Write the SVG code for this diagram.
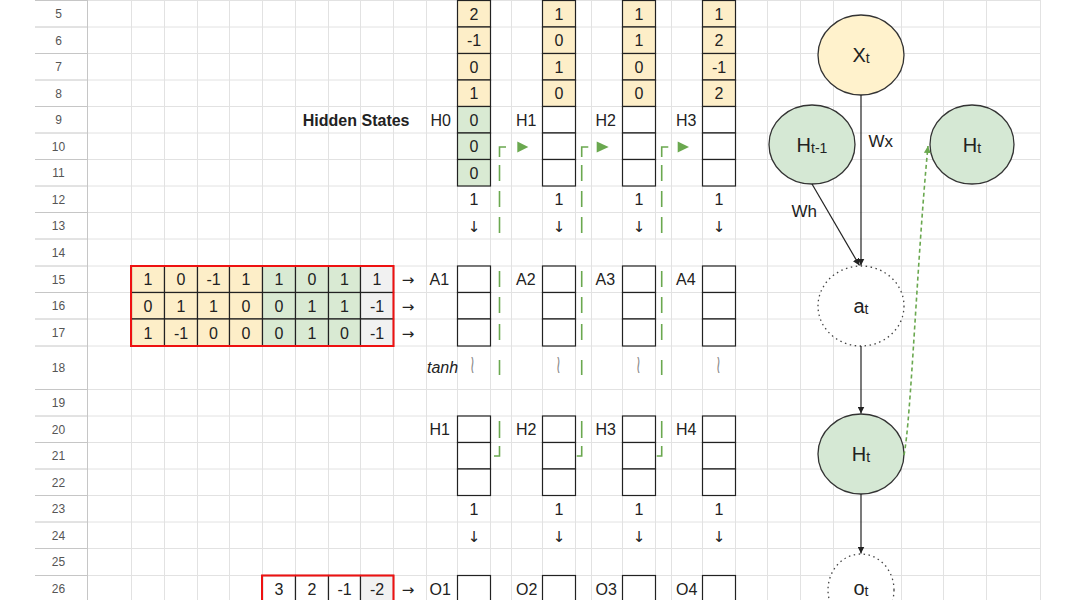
<svg xmlns="http://www.w3.org/2000/svg" width="1080" height="600" viewBox="0 0 1080 600">
<defs>
<style>
.g{stroke:#e2e2e2;stroke-width:1;fill:none}
.hd{stroke:#c6c6c6;stroke-width:1;fill:none}
.rn{font-family:"Liberation Sans",Arial,sans-serif;font-size:12px;fill:#555;text-anchor:middle}
.t{font-family:"Liberation Sans",Arial,sans-serif;font-size:16px;fill:#222}
.ar{font-family:"DejaVu Sans",sans-serif;font-size:15px;fill:#222;text-anchor:middle}
.c{text-anchor:middle}
.b{font-weight:bold}
.cell{stroke:#222;stroke-width:1.2}
.y{fill:#fdeec8}
.gr{fill:#d9ead3}
.w{fill:#fff}
.gy{fill:#f1f1f1}
.red{fill:none;stroke:#ee1111;stroke-width:2}
.gd{stroke:#6aa84f;stroke-width:1.6;fill:none}
.ga{fill:#6aa84f}
.sq{font-family:"DejaVu Sans",sans-serif;font-size:16px;fill:#888;text-anchor:middle}
.dt{font-family:"Liberation Sans",Arial,sans-serif;fill:#222}
.con{stroke:#222;stroke-width:1.2;fill:none}
</style>
<marker id="arr" viewBox="0 0 10 10" refX="10" refY="5" markerWidth="7" markerHeight="7" orient="auto" markerUnits="userSpaceOnUse"><path d="M0,0 L10,5 L0,10 Z" fill="#222"/></marker>
<marker id="garr" viewBox="0 0 10 10" refX="10" refY="5" markerWidth="7" markerHeight="7" orient="auto" markerUnits="userSpaceOnUse"><path d="M0,0 L10,5 L0,10 Z" fill="#6aa84f"/></marker>
</defs>
<rect width="1080" height="600" fill="#fff"/>

<g id="grid">
<path class="g" d="M131.5,0V602M164.5,0V602M197.5,0V602M229.5,0V602M262.5,0V602M295.5,0V602M328.5,0V602M360.5,0V602M393.5,0V602M426.5,0V602M457.5,0V602M490.5,0V602M511.5,0V602M542.5,0V602M575.5,0V602M591.5,0V602M622.5,0V602M655.5,0V602M671.5,0V602M702.5,0V602M735.5,0V602M767.5,0V602M800.5,0V602M833.5,0V602M901.5,0V602M943.5,0V602M986.5,0V602M1040.5,0V602"/>
<path class="g" d="M87,0.5H1040.5M87,27H1040.5M87,53.5H1040.5M87,80H1040.5M87,106.5H1040.5M87,133H1040.5M87,159.5H1040.5M87,186H1040.5M87,212.5H1040.5M87,239H1040.5M87,266H1040.5M87,292.5H1040.5M87,319H1040.5M87,346H1040.5M87,389.5H1040.5M87,416H1040.5M87,442.5H1040.5M87,469H1040.5M87,495.5H1040.5M87,522H1040.5M87,548.5H1040.5M87,575.5H1040.5"/>
<path class="hd" d="M35,0.5H87M35,27H87M35,53.5H87M35,80H87M35,106.5H87M35,133H87M35,159.5H87M35,186H87M35,212.5H87M35,239H87M35,266H87M35,292.5H87M35,319H87M35,346H87M35,389.5H87M35,416H87M35,442.5H87M35,469H87M35,495.5H87M35,522H87M35,548.5H87M35,575.5H87M87.5,0V602"/>
<g class="rn">
<text x="58.5" y="18">5</text><text x="58.5" y="44.5">6</text><text x="58.5" y="71">7</text><text x="58.5" y="97.5">8</text><text x="58.5" y="124">9</text><text x="58.5" y="150.5">10</text><text x="58.5" y="177">11</text><text x="58.5" y="203.5">12</text><text x="58.5" y="230">13</text><text x="58.5" y="256.5">14</text><text x="58.5" y="283.5">15</text><text x="58.5" y="310">16</text><text x="58.5" y="336.5">17</text><text x="58.5" y="372">18</text><text x="58.5" y="407">19</text><text x="58.5" y="433.5">20</text><text x="58.5" y="460">21</text><text x="58.5" y="486.5">22</text><text x="58.5" y="513">23</text><text x="58.5" y="539.5">24</text><text x="58.5" y="566">25</text><text x="58.5" y="593">26</text>
</g>
</g>

<g id="input-matrix">
<g class="cell">
<rect class="y" x="131.5" y="266" width="33" height="26.5"/><rect class="y" x="164.5" y="266" width="33" height="26.5"/><rect class="y" x="197.5" y="266" width="32" height="26.5"/><rect class="y" x="229.5" y="266" width="33" height="26.5"/><rect class="gr" x="262.5" y="266" width="33" height="26.5"/><rect class="gr" x="295.5" y="266" width="33" height="26.5"/><rect class="gr" x="328.5" y="266" width="32" height="26.5"/><rect class="gy" x="360.5" y="266" width="33" height="26.5"/>
<rect class="y" x="131.5" y="292.5" width="33" height="26.5"/><rect class="y" x="164.5" y="292.5" width="33" height="26.5"/><rect class="y" x="197.5" y="292.5" width="32" height="26.5"/><rect class="y" x="229.5" y="292.5" width="33" height="26.5"/><rect class="gr" x="262.5" y="292.5" width="33" height="26.5"/><rect class="gr" x="295.5" y="292.5" width="33" height="26.5"/><rect class="gr" x="328.5" y="292.5" width="32" height="26.5"/><rect class="gy" x="360.5" y="292.5" width="33" height="26.5"/>
<rect class="y" x="131.5" y="319" width="33" height="27"/><rect class="y" x="164.5" y="319" width="33" height="27"/><rect class="y" x="197.5" y="319" width="32" height="27"/><rect class="y" x="229.5" y="319" width="33" height="27"/><rect class="gr" x="262.5" y="319" width="33" height="27"/><rect class="gr" x="295.5" y="319" width="33" height="27"/><rect class="gr" x="328.5" y="319" width="32" height="27"/><rect class="gy" x="360.5" y="319" width="33" height="27"/>
</g>
<rect class="red" x="131" y="266" width="262.5" height="80"/>
<g class="t c">
<text x="148" y="285">1</text><text x="181" y="285">0</text><text x="213.5" y="285">-1</text><text x="246" y="285">1</text><text x="279" y="285">1</text><text x="312" y="285">0</text><text x="344.5" y="285">1</text><text x="377" y="285">1</text>
<text x="148" y="311.5">0</text><text x="181" y="311.5">1</text><text x="213.5" y="311.5">1</text><text x="246" y="311.5">0</text><text x="279" y="311.5">0</text><text x="312" y="311.5">1</text><text x="344.5" y="311.5">1</text><text x="377" y="311.5">-1</text>
<text x="148" y="338.5">1</text><text x="181" y="338.5">-1</text><text x="213.5" y="338.5">0</text><text x="246" y="338.5">0</text><text x="279" y="338.5">0</text><text x="312" y="338.5">1</text><text x="344.5" y="338.5">0</text><text x="377" y="338.5">-1</text>
</g>
<g class="ar"><text x="408" y="285">→</text><text x="408" y="311.5">→</text><text x="408" y="338.5">→</text></g>
</g>

<g id="output-weights">
<g class="cell">
<rect class="w" x="262.5" y="575.5" width="33" height="27"/><rect class="w" x="295.5" y="575.5" width="33" height="27"/><rect class="w" x="328.5" y="575.5" width="32" height="27"/><rect class="gy" x="360.5" y="575.5" width="33" height="27"/>
</g>
<rect class="red" x="262" y="575.5" width="131.5" height="30"/>
<g class="t c"><text x="279" y="594.5">3</text><text x="312" y="594.5">2</text><text x="344.5" y="594.5">-1</text><text x="377" y="594.5">-2</text></g>
<text class="ar" x="408" y="594.5">→</text>
</g>

<g id="timestep-columns">
<text class="t b" x="409.5" y="125.5" text-anchor="end">Hidden States</text>
<g class="cell">
<rect class="y" x="457.5" y="0.5" width="33" height="26.5"/><rect class="y" x="457.5" y="27" width="33" height="26.5"/><rect class="y" x="457.5" y="53.5" width="33" height="26.5"/><rect class="y" x="457.5" y="80" width="33" height="26.5"/><rect class="gr" x="457.5" y="106.5" width="33" height="26.5"/><rect class="gr" x="457.5" y="133" width="33" height="26.5"/><rect class="gr" x="457.5" y="159.5" width="33" height="26.5"/>
<rect class="y" x="542.5" y="0.5" width="33" height="26.5"/><rect class="y" x="542.5" y="27" width="33" height="26.5"/><rect class="y" x="542.5" y="53.5" width="33" height="26.5"/><rect class="y" x="542.5" y="80" width="33" height="26.5"/><rect class="w" x="542.5" y="106.5" width="33" height="26.5"/><rect class="w" x="542.5" y="133" width="33" height="26.5"/><rect class="w" x="542.5" y="159.5" width="33" height="26.5"/>
<rect class="y" x="622.5" y="0.5" width="33" height="26.5"/><rect class="y" x="622.5" y="27" width="33" height="26.5"/><rect class="y" x="622.5" y="53.5" width="33" height="26.5"/><rect class="y" x="622.5" y="80" width="33" height="26.5"/><rect class="w" x="622.5" y="106.5" width="33" height="26.5"/><rect class="w" x="622.5" y="133" width="33" height="26.5"/><rect class="w" x="622.5" y="159.5" width="33" height="26.5"/>
<rect class="y" x="702.5" y="0.5" width="33" height="26.5"/><rect class="y" x="702.5" y="27" width="33" height="26.5"/><rect class="y" x="702.5" y="53.5" width="33" height="26.5"/><rect class="y" x="702.5" y="80" width="33" height="26.5"/><rect class="w" x="702.5" y="106.5" width="33" height="26.5"/><rect class="w" x="702.5" y="133" width="33" height="26.5"/><rect class="w" x="702.5" y="159.5" width="33" height="26.5"/>
</g>
<g class="t c">
<text x="474" y="19.5">2</text><text x="474" y="46">-1</text><text x="474" y="72.5">0</text><text x="474" y="99">1</text><text x="474" y="125.5">0</text><text x="474" y="152">0</text><text x="474" y="178.5">0</text>
<text x="559" y="19.5">1</text><text x="559" y="46">0</text><text x="559" y="72.5">1</text><text x="559" y="99">0</text>
<text x="639" y="19.5">1</text><text x="639" y="46">1</text><text x="639" y="72.5">0</text><text x="639" y="99">0</text>
<text x="719" y="19.5">1</text><text x="719" y="46">2</text><text x="719" y="72.5">-1</text><text x="719" y="99">2</text>
<text x="474" y="205">1</text><text x="559" y="205">1</text><text x="639" y="205">1</text><text x="719" y="205">1</text>
</g>
<g class="ar"><text x="474" y="232">↓</text><text x="559" y="232">↓</text><text x="639" y="232">↓</text><text x="719" y="232">↓</text></g>
<g class="t"><text x="430.5" y="125.5">H0</text><text x="516" y="125.5">H1</text><text x="595.5" y="125.5">H2</text><text x="676" y="125.5">H3</text></g>
</g>

<g id="pre-activation">
<g class="cell">
<rect class="w" x="457.5" y="266" width="33" height="26.5"/><rect class="w" x="457.5" y="292.5" width="33" height="26.5"/><rect class="w" x="457.5" y="319" width="33" height="27"/>
<rect class="w" x="542.5" y="266" width="33" height="26.5"/><rect class="w" x="542.5" y="292.5" width="33" height="26.5"/><rect class="w" x="542.5" y="319" width="33" height="27"/>
<rect class="w" x="622.5" y="266" width="33" height="26.5"/><rect class="w" x="622.5" y="292.5" width="33" height="26.5"/><rect class="w" x="622.5" y="319" width="33" height="27"/>
<rect class="w" x="702.5" y="266" width="33" height="26.5"/><rect class="w" x="702.5" y="292.5" width="33" height="26.5"/><rect class="w" x="702.5" y="319" width="33" height="27"/>
</g>
<g class="t"><text x="429.5" y="285">A1</text><text x="516" y="285">A2</text><text x="595.5" y="285">A3</text><text x="676" y="285">A4</text></g>
<text class="t" x="427" y="373" font-style="italic" font-size="14.5">tanh</text>
<g class="sq">
<text transform="translate(472.5,372.5) scale(0.8,1.6)">≀</text>
<text transform="translate(558.5,372.5) scale(0.8,1.6)">≀</text>
<text transform="translate(638.5,372.5) scale(0.8,1.6)">≀</text>
<text transform="translate(718.5,372.5) scale(0.8,1.6)">≀</text>
</g>
</g>

<g id="hidden-outputs">
<g class="cell">
<rect class="w" x="457.5" y="416" width="33" height="26.5"/><rect class="w" x="457.5" y="442.5" width="33" height="26.5"/><rect class="w" x="457.5" y="469" width="33" height="26.5"/>
<rect class="w" x="542.5" y="416" width="33" height="26.5"/><rect class="w" x="542.5" y="442.5" width="33" height="26.5"/><rect class="w" x="542.5" y="469" width="33" height="26.5"/>
<rect class="w" x="622.5" y="416" width="33" height="26.5"/><rect class="w" x="622.5" y="442.5" width="33" height="26.5"/><rect class="w" x="622.5" y="469" width="33" height="26.5"/>
<rect class="w" x="702.5" y="416" width="33" height="26.5"/><rect class="w" x="702.5" y="442.5" width="33" height="26.5"/><rect class="w" x="702.5" y="469" width="33" height="26.5"/>
</g>
<g class="t"><text x="429.5" y="435">H1</text><text x="516" y="435">H2</text><text x="595.5" y="435">H3</text><text x="676" y="435">H4</text></g>
<g class="t c"><text x="474" y="514.5">1</text><text x="559" y="514.5">1</text><text x="639" y="514.5">1</text><text x="719" y="514.5">1</text></g>
<g class="ar"><text x="474" y="541.5">↓</text><text x="559" y="541.5">↓</text><text x="639" y="541.5">↓</text><text x="719" y="541.5">↓</text></g>
</g>

<g id="outputs">
<g class="cell">
<rect class="w" x="457.5" y="575.5" width="33" height="27"/><rect class="w" x="542.5" y="575.5" width="33" height="27"/><rect class="w" x="622.5" y="575.5" width="33" height="27"/><rect class="w" x="702.5" y="575.5" width="33" height="27"/>
</g>
<g class="t"><text x="429.5" y="594.5">O1</text><text x="516" y="594.5">O2</text><text x="595.5" y="594.5">O3</text><text x="676" y="594.5">O4</text></g>
</g>

<g id="node-xt"><ellipse cx="861" cy="55" rx="43" ry="40" fill="#fff2cc" stroke="#333" stroke-width="1.3"/><text class="dt" x="861" y="62" text-anchor="middle"><tspan font-size="20">X</tspan><tspan font-size="14" dy="1">t</tspan></text></g>
<g id="node-ht1"><ellipse cx="812" cy="144.5" rx="43" ry="39.5" fill="#d5e8d4" stroke="#333" stroke-width="1.3"/><text class="dt" x="812" y="151.5" text-anchor="middle"><tspan font-size="20">H</tspan><tspan font-size="14" dy="1">t-1</tspan></text></g>
<g id="node-ht-next"><ellipse cx="972" cy="144.5" rx="42" ry="39.5" fill="#d5e8d4" stroke="#333" stroke-width="1.3"/><text class="dt" x="972" y="151.5" text-anchor="middle"><tspan font-size="20">H</tspan><tspan font-size="14" dy="1">t</tspan></text></g>
<g id="node-at"><ellipse cx="861" cy="306" rx="43" ry="40" fill="#fff" stroke="#444" stroke-width="1.3" stroke-dasharray="1.5 3.5"/><text class="dt" x="861" y="313" text-anchor="middle"><tspan font-size="20">a</tspan><tspan font-size="14" dy="1">t</tspan></text></g>
<g id="node-ht"><ellipse cx="861" cy="454" rx="43" ry="40" fill="#d5e8d4" stroke="#333" stroke-width="1.3"/><text class="dt" x="861" y="461" text-anchor="middle"><tspan font-size="20">H</tspan><tspan font-size="14" dy="1">t</tspan></text></g>
<g id="node-ot"><ellipse cx="861" cy="590" rx="33" ry="36" fill="#fff" stroke="#444" stroke-width="1.3" stroke-dasharray="1.5 3.5"/><text class="dt" x="861" y="595" text-anchor="middle"><tspan font-size="20">o</tspan><tspan font-size="14" dy="1">t</tspan></text></g>

<g id="connectors">
<path class="con" d="M861,95V265.5" marker-end="url(#arr)"/>
<path class="con" d="M812,184L859.5,265.5" marker-end="url(#arr)"/>
<path class="con" d="M861,346V413.5" marker-end="url(#arr)"/>
<path class="con" d="M861,494V553.5" marker-end="url(#arr)"/>
<path class="gd" d="M904,455C911,420 917,260 928,146" stroke-dasharray="4 3" marker-end="url(#garr)"/>
<text class="dt" x="868.5" y="147" font-size="17">Wx</text>
<text class="dt" x="791.5" y="217" font-size="17">Wh</text>
<path class="gd" d="M506,147H499.5V157M499.5,165V181M499.5,191V207M499.5,217V233M499.5,271V287M499.5,297V313M499.5,324V340M499.5,360V375M499.5,421V438M499.5,446V456H494"/>
<path class="gd" d="M588.3,147H581.7V157M581.7,165V181M581.7,191V207M581.7,217V233M581.7,271V287M581.7,297V313M581.7,324V340M581.7,360V375M581.7,421V438M581.7,446V456H576.7"/>
<path class="gd" d="M668.3,147H661.7V157M661.7,165V181M661.7,191V207M661.7,217V233M661.7,271V287M661.7,297V313M661.7,324V340M661.7,360V375M661.7,421V438M661.7,446V456H656.7"/>
<polygon class="ga" points="517.3,141.5 528.3,147 517.3,152.5"/>
<polygon class="ga" points="596.7,141.5 608.7,147 596.7,152.5"/>
<polygon class="ga" points="677.7,141.5 689,147 677.7,152.5"/>
</g>
</svg>
